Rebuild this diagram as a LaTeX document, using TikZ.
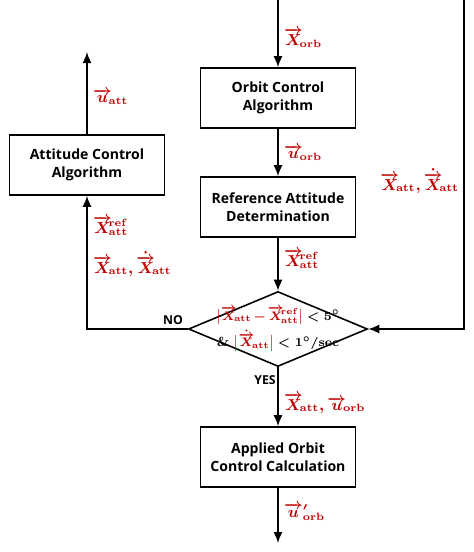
\documentclass[tikz,border=0pt]{standalone}
\usepackage{amsmath}
\usepackage{amssymb}
\usepackage{fontspec}
\setsansfont{Open Sans}
\usepackage{tikz}
\usepackage{xcolor}
\usetikzlibrary{shapes.geometric, arrows.meta, positioning, calc}

\definecolor{sigred}{RGB}{192,0,0}
\newcommand{\vb}[1]{\overrightarrow{#1}\mkern-3mu}
\newcommand{\vbd}[1]{\dot{\overrightarrow{#1}}\mkern-3mu}

\tikzset{
  block/.style={draw, line width=0.9pt, minimum width=3.1cm, minimum height=1.2cm, align=center, font=\sffamily\bfseries\fontsize{8}{10}\selectfont},
  flow/.style={line width=0.9pt, -{Latex[length=2.2mm,width=1.8mm]}},
  sig/.style={text=sigred, font=\fontsize{9}{11}\selectfont\boldmath, inner sep=1pt},
  tag/.style={font=\sffamily\bfseries\fontsize{7}{9}\selectfont, inner sep=1pt}
}

\begin{document}
\begin{tikzpicture}[x=0.02cm, y=-0.02cm]
\useasboundingbox (0,0) rectangle (474,552);
% Main column
\node[block] (orbit) at (278,98) {Orbit Control\\Algorithm};
\node[block] (refatt) at (278,207) {Reference Attitude\\Determination};
\node[draw, line width=0.9pt, diamond, minimum width=3.58cm, minimum height=1.5cm, inner sep=0pt] (check) at (278,329) {};
\node[font=\fontsize{7.5}{9}\selectfont\boldmath, align=center, inner sep=0pt] (cond) at (check.center) {%
  $\color{sigred}\bigl|\vb{X}_{\mathbf{att}}\mkern-2mu-\mkern-2mu\vb{X}^{\mathbf{ref}}_{\mathbf{att}}\bigr|\color{black}\mkern-1mu<\mathbf{5}^\circ$\\[2pt]
  \textbf{\&} $\color{sigred}\bigl|\vbd{X}_{\mathbf{att}}\bigr|\color{black}\mkern-1mu<\mathbf{1}^\circ\mathbf{/sec}$};
\node[block] (applied) at (278,457) {Applied Orbit\\Control Calculation};
% Side block
\node[block] (attctrl) at (87,165) {Attitude Control\\Algorithm};

% Free ends
\coordinate (top) at (278,0);
\coordinate (topr) at (464,0);
\coordinate (outatt) at (87,52);
\coordinate (outorb) at (278,543);

% Connectors
\draw[flow] (top) -- (orbit);
\draw[flow] (orbit) -- (refatt);
\draw[flow] (refatt) -- (check);
\draw[flow] (topr) |- (check.east);
\draw[flow] (check.west) -| (attctrl.south);
\draw[flow] (attctrl) -- (outatt);
\draw[flow] (check.south) -- (applied);
\draw[flow] (applied) -- (outorb);

% Signal labels
\node[sig, anchor=west] (xorb) at (282,38) {$\vb{X}_{\mathbf{orb}}$};
\node[sig, anchor=west] (uorb) at (282,153) {$\vb{u}_{\mathbf{orb}}$};
\node[sig, anchor=west] (xref) at (282,259) {$\vb{X}^{\mathbf{ref}}_{\mathbf{att}}$};
\node[sig, anchor=east] (xfb) at (461,181) {$\vb{X}_{\mathbf{att}}, \vbd{X}_{\mathbf{att}}$};
\node[sig, anchor=west] (uatt) at (91,97) {$\vb{u}_{\mathbf{att}}$};
\node[sig, anchor=west] (xrefl) at (91,226) {$\vb{X}^{\mathbf{ref}}_{\mathbf{att}}$};
\node[sig, anchor=west] (xattl) at (91,264) {$\vb{X}_{\mathbf{att}}, \vbd{X}_{\mathbf{att}}$};
\node[sig, anchor=west] (xuorb) at (282,403) {$\vb{X}_{\mathbf{att}}, \vb{u}_{\mathbf{orb}}$};
\node[sig, anchor=west] (uorbp) at (282,512) {$\overrightarrow{u}'_{\mathbf{orb}}$};

% Branch tags
\node[tag] (no) at (173,320) {NO};
\node[tag] (yes) at (265,380) {YES};
\end{tikzpicture}
\end{document}
